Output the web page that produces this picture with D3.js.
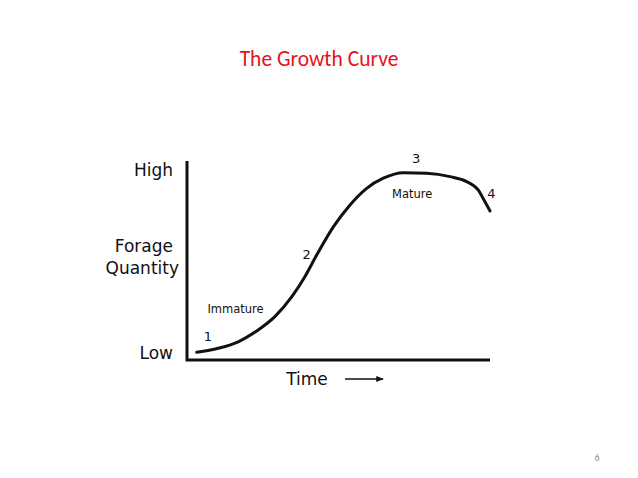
<!DOCTYPE html>
<html>
<head>
<meta charset="utf-8">
<title>The Growth Curve</title>
<script src="https://d3js.org/d3.v7.min.js"></script>
<style>
  body { margin: 0; background: #fff; }
  svg text { font-family: "DejaVu Sans", sans-serif; fill: #111; }
</style>
</head>
<body>
<div id="chart"></div>
<script>
// growth curve (time 0-10, quantity 0-10)
const time     = [0.32, 1.03, 1.69, 2.35, 2.90, 3.46, 3.89, 4.28, 4.83, 5.38, 5.93, 6.48, 7.14, 7.91, 8.68, 9.23, 9.61, 9.83, 10.0];
const quantity = [0.39, 0.59, 0.92, 1.52, 2.19, 3.20, 4.21, 5.30, 6.72, 7.83, 8.67, 9.18, 9.46, 9.43, 9.26, 9.01, 8.59, 8.0, 7.53];

// stage markers and labels along the curve
const stageNames = ["1", "Immature", "2", "3", "Mature", "4"];
const stageTime  = [0.69, 1.6, 3.95, 7.56, 7.43, 10.05];
const stageQty   = [1.19, 2.56, 5.35, 10.18, 8.38, 8.43];

const yLabels = ["High", "Forage", "Quantity", "Low"];
const yLabelQty = [9.6, 5.76, 4.65, 0.35];

const w = 638, h = 478;
const svg = d3.select("#chart").append("svg").attr("width", w).attr("height", h);

const x = d3.scaleLinear().domain([0, 10]).range([187, 490]);
const y = d3.scaleLinear().domain([0, 10]).range([360, 162]);

// title
svg.append("text")
  .attr("x", 319).attr("y", 66)
  .attr("text-anchor", "middle")
  .style("font-family", "Carlito, 'Open Sans', sans-serif")
  .style("font-size", "21.5px")
  .style("fill", "#e8101a")
  .text("The Growth Curve");

// page number
svg.append("text")
  .attr("x", 597).attr("y", 461)
  .attr("text-anchor", "middle")
  .style("font-family", "Carlito, 'Open Sans', sans-serif")
  .style("font-size", "10px")
  .style("fill", "#888")
  .text("6");

// axes (no ticks)
svg.append("path")
  .attr("d", d3.line()([[x(0), y(10.05)], [x(0), y(0)], [x(10), y(0)]]))
  .attr("fill", "none").attr("stroke", "#111").attr("stroke-width", 3);

// curve
const pts = time.map((t, i) => [t, quantity[i]]);
svg.append("path")
  .datum(pts)
  .attr("d", d3.line().x(d => x(d[0])).y(d => y(d[1])).curve(d3.curveMonotoneX))
  .attr("fill", "none").attr("stroke", "#111").attr("stroke-width", 3)
  .attr("stroke-linecap", "round");

// y labels
svg.selectAll("text.ylab")
  .data(yLabels)
  .enter().append("text")
  .attr("class", "ylab")
  .attr("x", (d, i) => i === 2 ? 179 : 173)
  .attr("y", (d, i) => y(yLabelQty[i]))
  .attr("dy", "0.35em")
  .attr("text-anchor", "end")
  .style("font-size", "17px")
  .text(d => d);

// stage labels
svg.selectAll("text.stage")
  .data(stageNames)
  .enter().append("text")
  .attr("class", "stage")
  .attr("x", (d, i) => x(stageTime[i]))
  .attr("y", (d, i) => y(stageQty[i]))
  .attr("dy", "0.35em")
  .attr("text-anchor", "middle")
  .style("font-size", d => d.length > 1 ? "11.5px" : "13px")
  .text(d => d);

// x label with arrow
svg.append("text")
  .attr("x", 307).attr("y", 379)
  .attr("dy", "0.35em")
  .attr("text-anchor", "middle")
  .style("font-size", "17px")
  .text("Time");

svg.append("defs").append("marker")
  .attr("id", "arr").attr("viewBox", "0 0 10 10")
  .attr("refX", 9).attr("refY", 5)
  .attr("markerWidth", 5).attr("markerHeight", 5)
  .attr("orient", "auto")
  .append("path").attr("d", "M0,1L10,5L0,9Z").attr("fill", "#111");

svg.append("line")
  .attr("x1", 345).attr("x2", 383)
  .attr("y1", 379).attr("y2", 379)
  .attr("stroke", "#111").attr("stroke-width", 1.5)
  .attr("marker-end", "url(#arr)");
</script>
</body>
</html>
